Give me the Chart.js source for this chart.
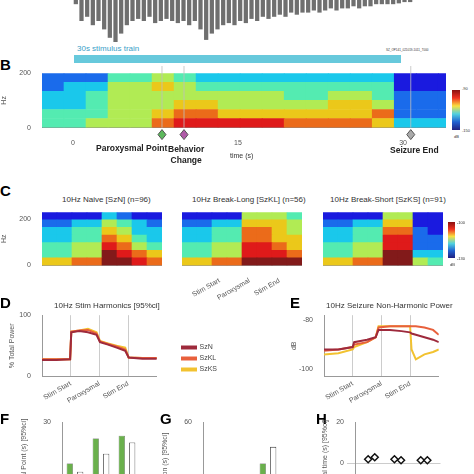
<!DOCTYPE html>
<html>
<head>
<meta charset="utf-8">
<script src="https://cdn.jsdelivr.net/npm/chart.js@4"></script>
<style>
  body { margin: 0; width: 474px; height: 474px; overflow: hidden; background: #fff; font-family: "Liberation Sans", Arial, sans-serif; position: relative; }
  .box { position: absolute; }
  .t { position: absolute; font-size: 8px; color: #333; white-space: nowrap; }
  .lab { position: absolute; font-size: 15px; font-weight: bold; color: #000; }
  .b { font-weight: bold; font-size: 8.5px; color: #222; }
</style>
</head>
<body>
<!-- waveform -->
<div class="box" style="left:73px;top:0;width:340px;height:42px"><canvas id="wave"></canvas></div>
<div class="t" style="left:77px;top:44px;color:#3aa0c8;font-size:8px">30s stimulus train</div>
<div class="t" style="left:386px;top:48px;font-size:3px">SZ_OP141_021019-1011_T000</div>
<div class="box" style="left:74px;top:55px;width:327px;height:8px;background:#67c9dc"></div>

<div class="lab" style="left:0;top:56px">B</div>
<div class="box" style="left:0;top:66px;width:446px;height:84px"><canvas id="specB"></canvas></div>
<div class="box" style="left:452px;top:90px;width:8px;height:40px;background:linear-gradient(#8a1010,#f03020,#f8e040,#50d0e0,#2060d0,#202080)"></div>
<div class="t" style="left:462px;top:86px;font-size:4px">-90</div>
<div class="t" style="left:462px;top:128px;font-size:4px">-150</div>
<div class="t" style="left:454px;top:134px;font-size:4px">dB</div>
<div class="t b" style="left:96px;top:143px">Paroxysmal Point</div>
<div class="t b" style="left:168px;top:144px;text-align:center;line-height:11px">Behavior<br>Change</div>
<div class="t" style="left:230px;top:152px;font-size:7px">time (s)</div>
<div class="t b" style="left:390px;top:145px">Seizure End</div>

<div class="lab" style="left:0;top:182px">C</div>
<div class="t" style="left:62px;top:195px">10Hz Naive [SzN] (n=96)</div>
<div class="t" style="left:192px;top:195px">10Hz Break-Long [SzKL] (n=56)</div>
<div class="t" style="left:330px;top:195px">10Hz Break-Short [SzKS] (n=91)</div>
<div class="box" style="left:0;top:205px;width:162px;height:100px"><canvas id="c1"></canvas></div>
<div class="box" style="left:140px;top:205px;width:162px;height:100px"><canvas id="c2"></canvas></div>
<div class="box" style="left:281px;top:205px;width:162px;height:100px"><canvas id="c3"></canvas></div>
<div class="box" style="left:448px;top:222px;width:7px;height:36px;background:linear-gradient(#8a1010,#f03020,#f8e040,#50d0e0,#2060d0,#202080)"></div>
<div class="t" style="left:457px;top:220px;font-size:4px">-100</div>
<div class="t" style="left:457px;top:256px;font-size:4px">-130</div>
<div class="t" style="left:450px;top:262px;font-size:4px">dB</div>

<div class="lab" style="left:0;top:294px">D</div>
<div class="t" style="left:54px;top:301px">10Hz Stim Harmonics [95%ci]</div>
<div class="box" style="left:8px;top:308px;width:156px;height:100px"><canvas id="d"></canvas></div>
<div class="box" style="left:178px;top:340px;width:80px;height:40px"><canvas id="leg"></canvas></div>

<div class="lab" style="left:290px;top:294px">E</div>
<div class="t" style="left:326px;top:301px">10Hz Seizure Non-Harmonic Power</div>
<div class="box" style="left:290px;top:308px;width:156px;height:100px"><canvas id="e"></canvas></div>

<div class="lab" style="left:0;top:410px">F</div>
<div class="box" style="left:20px;top:412px;width:120px;height:100px"><canvas id="f"></canvas></div>
<div class="lab" style="left:160px;top:410px">G</div>
<div class="box" style="left:161px;top:412px;width:120px;height:100px"><canvas id="g"></canvas></div>
<div class="lab" style="left:316px;top:410px">H</div>
<div class="box" style="left:321px;top:412px;width:125px;height:100px"><canvas id="h"></canvas></div>

<script>
Chart.defaults.font.family = '"Liberation Sans", Arial, sans-serif';
Chart.defaults.font.size = 7;
Chart.defaults.color = '#555';
Chart.defaults.animation = false;
Chart.defaults.plugins.legend.display = false;
Chart.defaults.plugins.tooltip.enabled = false;

// waveform amplitude (depth from top, 0..1)
const waveDepth = [0.1, 0.5, 0.4, 0.6, 0.5, 0.7, 0.9, 1.0, 0.8, 0.6, 0.5, 0.45, 0.5, 0.4, 0.55, 0.5, 0.45, 0.5, 0.55, 0.5,
  0.6, 0.5, 0.7, 0.95, 0.8, 0.7, 0.6, 0.55, 0.6, 0.5, 0.55, 0.45, 0.5, 0.4, 0.45, 0.4, 0.35, 0.4, 0.3, 0.35,
  0.3, 0.3, 0.25, 0.3, 0.25, 0.2, 0.25, 0.2, 0.2, 0.15, 0.2, 0.15, 0.15, 0.1, 0.1, 0.1, 0.1, 0.08, 0.05, 0.05];

// spectrogram B: time column centres (s), 6 bands low->high, levels 0..9
const specBTimes = [-1.8, 0.2, 2.2, 4.2, 6.2, 8.2, 10.2, 12.2, 14.2, 16.2, 18.2, 20.2, 22.2, 24.2, 26.2, 28.2, 30.2, 32.2, 34.2];
const specBLevels = [
  [4, 4, 3, 3, 2, 2], [4, 4, 3, 3, 3, 2], [5, 4, 4, 4, 3, 2], [5, 5, 5, 5, 5, 4], [5, 5, 5, 5, 5, 4],
  [7, 6, 5, 5, 6, 5], [8, 7, 6, 5, 5, 4], [8, 7, 6, 5, 4, 3], [8, 6, 5, 5, 4, 3], [8, 6, 5, 5, 4, 3],
  [8, 6, 5, 5, 4, 3], [7, 6, 5, 4, 4, 3], [7, 6, 5, 4, 4, 3], [7, 6, 6, 5, 4, 3], [7, 6, 6, 5, 4, 3],
  [6, 7, 5, 4, 4, 3], [3, 2, 2, 2, 1, 1], [3, 2, 2, 2, 1, 1], [3, 2, 2, 2, 1, 1]
];
const specBTicks = [0, 15, 30];
const eventTimes = [8.1, 10.1, 30.7];
const eventColors = ['#5cb85c', '#b05aa8', '#aaaaaa'];

// spectrograms C: 8 columns (pre, stim, parox, post), 7 bands low->high
const specN = [[6,4,4,3,3,2,1],[6,4,4,3,3,2,1],[7,5,5,4,4,3,1],[7,5,5,4,4,3,1],[9,9,8,7,6,5,3],[9,8,7,6,5,4,2],[8,7,5,4,3,3,1],[7,6,4,3,3,2,1]];
const specKL = [[6,4,4,3,3,2,1],[6,4,4,3,3,2,1],[7,5,5,4,4,3,1],[7,5,5,4,4,3,1],[9,8,8,7,7,6,5],[9,8,8,7,7,6,5],[9,8,7,6,6,6,5],[9,7,6,6,5,5,4]];
const specKS = [[6,4,4,3,3,2,1],[6,4,4,3,3,2,1],[7,5,5,4,4,3,1],[7,5,5,4,4,3,1],[9,9,8,8,7,6,5],[9,9,8,8,7,6,5],[5,3,2,2,2,1,1],[4,3,2,2,1,1,1]];

// D: stim harmonics (% total power), x: 0..4 with 1=Stim Start, 2=Paroxysmal, 3=Stim End
const dX = [0, 0.5, 0.98, 1.02, 1.3, 1.6, 1.9, 2.02, 2.3, 2.6, 2.9, 3.02, 3.5, 4];
const dSzN = [27, 27, 28, 72, 74, 72, 68, 56, 52, 47, 42, 31, 29, 29];
const dSzKL = [28, 28, 28, 73, 75, 76, 70, 57, 53, 49, 44, 31, 30, 30];
const dSzKS = [28, 28, 28, 73, 75, 78, 72, 58, 54, 50, 47, 31, 30, 30];

// E: non-harmonic power (dB)
const eX = [0, 0.5, 1.0, 1.05, 1.5, 1.8, 1.9, 2.3, 2.7, 3.0, 3.05, 3.2, 3.5, 3.8, 4];
const eSzN = [-92, -92, -91, -89, -88, -87, -84, -84, -84.5, -85, -85.5, -86, -87, -88, -89];
const eSzKL = [-92.5, -92, -91, -90, -89, -87, -83, -82.5, -82.5, -82.5, -82.5, -82.5, -83, -84, -86];
const eSzKS = [-94, -93.5, -92, -91, -89, -87, -82.5, -82.5, -82.5, -82.5, -92, -96, -94, -93, -92];
const seriesNames = ['SzN', 'SzKL', 'SzKS'];
const seriesColors = ['#9e2a3c', '#e8603c', '#f2c230'];
const phaseTicks = ['', 'Stim Start', 'Paroxysmal', 'Stim End', ''];

// F, G: grouped bars (green / white)
const fGreen = [15, 24, 25];
const fWhite = [12, 18.5, 22.6];
const gGreen = [15, 30];
const gWhite = [16, 42];
// H: mean paroxysmal time markers
const hX = [1, 1.5, 3, 3.5, 5, 5.5];
const hY = [2, 3, 2, 1.5, 1.5, 1.5];

function jet(v) {
  const t = Math.max(0, Math.min(1, v / 9));
  const r = Math.max(0, Math.min(1, 1.5 - Math.abs(4 * t - 3)));
  const g = Math.max(0, Math.min(1, 1.5 - Math.abs(4 * t - 2)));
  const b = Math.max(0, Math.min(1, 1.5 - Math.abs(4 * t - 1)));
  const m = c => Math.round((c * 0.82 + 0.1) * 255);
  return `rgb(${m(r)},${m(g)},${m(b)})`;
}

function specDatasets(levels, bandHz, xs) {
  const nb = levels[0].length;
  const out = [];
  for (let b = 0; b < nb; b++) {
    out.push({
      data: xs ? levels.map((_, i) => ({ x: xs[i], y: bandHz })) : levels.map(() => bandHz),
      backgroundColor: levels.map(col => jet(col[b])),
      barPercentage: 1, categoryPercentage: 1, borderWidth: 0, stack: 's'
    });
  }
  return out;
}

// waveform
new Chart(document.getElementById('wave'), {
  type: 'bar',
  data: { labels: waveDepth.map((_, i) => i), datasets: [{ data: waveDepth.map(d => [1 - d, 1]), backgroundColor: '#6f6f6f', barPercentage: 0.75, categoryPercentage: 1 }] },
  options: { responsive: true, maintainAspectRatio: false,
    scales: { x: { display: false }, y: { display: false, min: 0, max: 1 } } }
});

// vertical event lines + diamonds on B
const eventPlugin = {
  id: 'events',
  afterDatasetsDraw(chart) {
    const { ctx, chartArea, scales: { x } } = chart;
    ctx.save();
    eventTimes.forEach((t, i) => {
      const px = x.getPixelForValue(t);
      ctx.strokeStyle = 'rgba(190,190,190,0.8)';
      ctx.lineWidth = 1;
      ctx.beginPath(); ctx.moveTo(px, 0); ctx.lineTo(px, chartArea.bottom); ctx.stroke();
      ctx.fillStyle = eventColors[i];
      ctx.strokeStyle = '#555';
      ctx.beginPath();
      const cy = chartArea.bottom + 7;
      ctx.moveTo(px, cy - 5); ctx.lineTo(px + 4, cy); ctx.lineTo(px, cy + 5); ctx.lineTo(px - 4, cy); ctx.closePath();
      ctx.fill(); ctx.stroke();
    });
    ctx.restore();
  }
};

new Chart(document.getElementById('specB'), {
  type: 'bar',
  data: { datasets: specDatasets(specBLevels, 200 / 6, specBTimes) },
  options: { responsive: true, maintainAspectRatio: false, layout: { padding: { top: 4 } },
    scales: {
      x: { type: 'linear', min: -2.8, max: 33.9, offset: false, stacked: true, grid: { display: false }, border: { color: '#888' },
        afterBuildTicks: s => { s.ticks = specBTicks.map(v => ({ value: v })); },
        ticks: { font: { size: 7 }, maxRotation: 0 } },
      y: { stacked: true, min: 0, max: 200, afterFit: s => { s.width = 42; }, grid: { display: false },
        ticks: { stepSize: 200, font: { size: 7 } }, title: { display: true, text: 'Hz', font: { size: 7 }, padding: 0 } }
    } },
  plugins: [eventPlugin]
});

function specC(id, levels, showY, showX) {
  const hid = 'rgba(0,0,0,0)';
  new Chart(document.getElementById(id), {
    type: 'bar',
    data: { labels: levels.map((_, i) => i), datasets: specDatasets(levels, 230 / 7) },
    options: { responsive: true, maintainAspectRatio: false, layout: { padding: { top: 4 } },
      scales: {
        x: { stacked: true, grid: { display: false }, border: { color: '#999' },
          ticks: { color: showX ? '#555' : hid, autoSkip: false, maxRotation: 30, minRotation: 30, font: { size: 7 },
            callback: (v, i) => ({ 2: 'Stim Start', 4: 'Paroxysmal', 6: 'Stim End' })[i] ?? '' } },
        y: { stacked: true, min: 0, max: 230, afterFit: s => { s.width = 42; }, grid: { display: false }, border: { display: showY },
          afterBuildTicks: s => { s.ticks = [{ value: 0 }, { value: 200 }]; },
          ticks: { color: showY ? '#555' : hid, font: { size: 7 } },
          title: { display: true, text: 'Hz', color: showY ? '#555' : hid, font: { size: 7 }, padding: 0 } }
      } }
  });
}
specC('c1', specN, true, false);
specC('c2', specKL, false, true);
specC('c3', specKS, false, false);

function lineChart(id, ys, xs, min, max, ticksVals, yTitle) {
  new Chart(document.getElementById(id), {
    type: 'line',
    data: { datasets: ys.map((y, i) => ({ data: xs.map((x, j) => ({ x, y: y[j] })), borderColor: seriesColors[i], borderWidth: 2, pointRadius: 0, tension: 0 })) },
    options: { responsive: true, maintainAspectRatio: false,
      scales: {
        x: { type: 'linear', min: 0, max: 4, grid: { drawTicks: false, color: c => (c.tick.value > 0 && c.tick.value < 4) ? '#ccc' : 'rgba(0,0,0,0)' },
          border: { color: '#999' }, afterBuildTicks: s => { s.ticks = [0, 1, 2, 3, 4].map(v => ({ value: v })); },
          ticks: { maxRotation: 30, minRotation: 30, font: { size: 7 }, callback: v => phaseTicks[v] } },
        y: { min, max, afterFit: s => { s.width = 34; }, grid: { display: false }, border: { color: '#999' },
          afterBuildTicks: s => { s.ticks = ticksVals.map(v => ({ value: v })); },
          ticks: { font: { size: 7 } }, title: { display: true, text: yTitle, font: { size: 7 }, padding: 0 } }
      } }
  });
}
lineChart('d', [dSzN, dSzKL, dSzKS], dX, 0, 100, [0, 100], '% Total Power');
lineChart('e', [eSzN, eSzKL, eSzKS], eX, -103, -78, [-100, -80], 'dB');

new Chart(document.getElementById('leg'), {
  type: 'line',
  data: { labels: [], datasets: seriesNames.map((n, i) => ({ label: n, data: [], borderColor: seriesColors[i], backgroundColor: seriesColors[i], borderWidth: 2 })) },
  options: { responsive: true, maintainAspectRatio: false, scales: { x: { display: false }, y: { display: false } },
    plugins: { legend: { display: true, position: 'left', align: 'start', labels: { boxWidth: 14, boxHeight: 2, padding: 4, color: '#444', font: { size: 7 } } } } }
});

function barChart(id, green, white, max, title, nSlots) {
  const labels = Array.from({ length: nSlots }, (_, i) => i);
  const pad = arr => labels.map(i => i < nSlots - arr.length ? null : arr[i - (nSlots - arr.length)]);
  new Chart(document.getElementById(id), {
    type: 'bar',
    data: { labels, datasets: [
      { data: pad(green), backgroundColor: '#6ab04c', borderColor: '#333', borderWidth: 0.5, barPercentage: 0.6 },
      { data: pad(white), backgroundColor: '#fff', borderColor: '#333', borderWidth: 0.8, barPercentage: 0.6 }] },
    options: { responsive: true, maintainAspectRatio: false, layout: { padding: { top: 10 } },
      scales: { x: { display: false }, y: { min: 0, max, afterFit: s => { s.width = 42; }, grid: { display: false }, border: { color: '#999' },
        afterBuildTicks: s => { s.ticks = [{ value: max }]; }, ticks: { font: { size: 7 } },
        title: { display: true, text: title, font: { size: 7 }, padding: 0 } } } }
  });
}
barChart('f', fGreen, fWhite, 30, 'Paroxysmal Point (s) [95%ci]', 3);
barChart('g', gGreen, gWhite, 60, 'Duration (s) [95%ci]', 3);

new Chart(document.getElementById('h'), {
  type: 'scatter',
  data: { datasets: [{ data: hX.map((x, i) => ({ x, y: hY[i] })), pointStyle: 'rectRot', pointRadius: 3.5, borderColor: '#111', borderWidth: 1.5, backgroundColor: '#fff' }] },
  options: { responsive: true, maintainAspectRatio: false, layout: { padding: { top: 10 } },
    scales: { x: { display: false, min: 0, max: 6.5 },
      y: { min: -20, max: 20, afterFit: s => { s.width = 34; }, border: { color: '#999' },
        grid: { color: c => c.tick.value === 0 ? '#ccc' : 'rgba(0,0,0,0)' },
        afterBuildTicks: s => { s.ticks = [{ value: 0 }, { value: 20 }]; }, ticks: { font: { size: 7 } },
        title: { display: true, text: 'Paroxysmal time (s) [95%ci]', font: { size: 7 }, padding: 0 } } } }
});
</script>
</body>
</html>
